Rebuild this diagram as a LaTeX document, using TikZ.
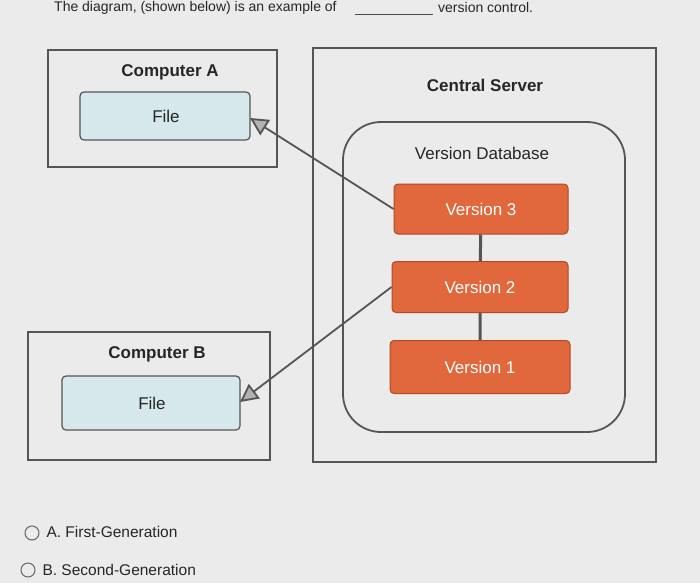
\documentclass[tikz,border=0pt]{standalone}
\usepackage{fontspec}
\setmainfont{Liberation Sans}
\usetikzlibrary{arrows.meta}
\definecolor{bg}{HTML}{EBEBEB}
\definecolor{fileblue}{HTML}{D6E8EC}
\definecolor{ver}{HTML}{E0683C}
\definecolor{verb}{HTML}{B04A25}
\definecolor{edge}{HTML}{555555}
\begin{document}
\begin{tikzpicture}[x=1pt,y=-1pt,
  box/.style={draw=edge,line width=1.8pt},
  file/.style={draw=edge,fill=fileblue,rounded corners=4pt,line width=1.2pt},
  vers/.style={draw=verb,fill=ver,rounded corners=4pt,line width=1pt,text=white,font=\fontsize{17}{20}\selectfont},
  lbl/.style={font=\bfseries\fontsize{17}{20}\selectfont,text=black!85},
  txt/.style={font=\fontsize{17}{20}\selectfont,text=black!85},
  top/.style={font=\fontsize{14}{16}\selectfont,text=black!85,inner sep=0pt},
  arr/.style={draw=edge,line width=1.8pt,-{Triangle[open,fill=gray!60,length=18pt,width=18pt]}}]
\fill[bg] (0,0) rectangle (700,583);
\useasboundingbox (0,0) rectangle (700,583);
\node[anchor=west,top] (q) at (54,7.5) {The diagram, (shown below) is an example of};
\draw[black!70] (355,14) -- (433,14);
\node[anchor=west,top] (q2) at (438,7.5) {version control.};
% Computer A
\draw[box] (48,50) rectangle (277,167);
\node[lbl] (ca) at (170,72) {Computer A};
\draw[file] (80,92) rectangle (250,140);
\node[txt] (fa) at (166,116) {File};
\coordinate (faR) at (250,118);
% Computer B
\draw[box] (28,332) rectangle (270,460);
\node[lbl] (cb) at (157,354) {Computer B};
\draw[file] (62,376) rectangle (240,430);
\node[txt] (fb) at (152,403) {File};
\coordinate (fbR) at (240,402);
% Server
\draw[box] (313,48) rectangle (656,462);
\node[lbl] (cs) at (485,85) {Central Server};
\draw[draw=edge,line width=1.8pt,rounded corners=38pt] (343,122) rectangle (625,432);
\node[txt] (vd) at (482,153) {Version Database};
\node[vers,minimum width=174pt,minimum height=50pt] (v3) at (481,209) {Version 3};
\node[vers,minimum width=176pt,minimum height=51pt] (v2) at (480,287) {Version 2};
\node[vers,minimum width=180pt,minimum height=53pt] (v1) at (480,367) {Version 1};
\draw[edge,line width=3pt] (v3) -- (v2) (v2) -- (v1);
\draw[arr] (v3.west) -- (faR);
\draw[arr] (v2.west) -- (fbR);
% options
\draw[black!60,line width=1pt] (32,533) circle (7pt);
\node[anchor=west,txt,font=\fontsize{15.5}{18}\selectfont] (oa) at (43,532) {A. First-Generation};
\draw[black!60,line width=1pt] (28,570) circle (7pt);
\node[anchor=west,txt,font=\fontsize{15.5}{18}\selectfont] (ob) at (39,570) {B. Second-Generation};
\end{tikzpicture}
\end{document}
